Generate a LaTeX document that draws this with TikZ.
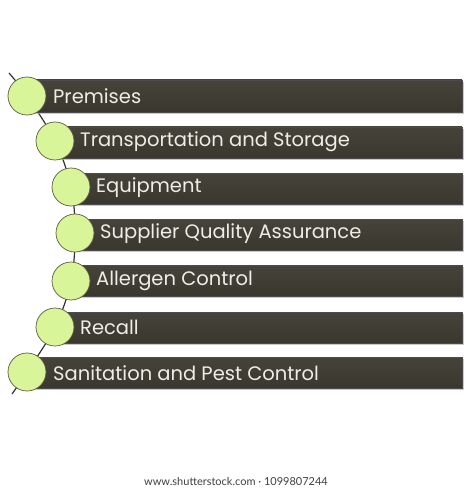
\documentclass[tikz,border=0pt]{standalone}
\usepackage{fontspec}
\setmainfont{Poppins}
\newfontfamily\footfont{Lato}
\usetikzlibrary{shadows}
\definecolor{barc}{HTML}{3A372E}
\definecolor{bartop}{HTML}{46433A}
\definecolor{circ}{HTML}{D8F59A}
\definecolor{circedge}{HTML}{5A5A3A}
\definecolor{txt}{HTML}{EEEEE6}
\tikzset{
  bar/.style={draw=black!70, line width=0.5pt, top color=bartop, bottom color=barc,
    drop shadow={shadow xshift=2pt, shadow yshift=-2pt, fill=black!35, opacity=0.6}},
  dot/.style={circle, draw=circedge, line width=0.7pt, fill=circ, minimum size=38pt, inner sep=0pt},
  lbl/.style={anchor=west, text=txt, font=\fontsize{19.5}{19.5}\selectfont, inner sep=0pt},
  spine/.style={draw=black!80, line width=1.2pt}
}
\begin{document}
\begin{tikzpicture}[x=1pt,y=-1pt]
\useasboundingbox (0,0) rectangle (474,489);
\fill[white] (0,0) rectangle (474,489);
% spine
\draw[spine] plot[smooth, tension=0.6] coordinates {(9,73) (27,96) (55,141) (71,187) (75,233) (71,281) (55,327) (27,372) (12,394)};
% bars
\foreach \cx/\t/\b in {27/80/112, 55/127/158, 71/173/204, 75/219/250, 71/265/296, 55/312/343, 27/357/388}{
  \path[bar] (\cx,\t) rectangle (462,\b);
}
% circles
\node[dot] (c1) at (27,96) {};
\node[dot] (c2) at (55,141) {};
\node[dot] (c3) at (71,187) {};
\node[dot] (c4) at (75,233) {};
\node[dot] (c5) at (71,281) {};
\node[dot] (c6) at (55,327) {};
\node[dot] (c7) at (27,372) {};
% labels
\node[lbl] (t1) at (53,96) {Premises};
\node[lbl] (t2) at (80,142) {Transportation and Storage};
\node[lbl] (t3) at (96,188) {Equipment};
\node[lbl] (t4) at (100,234) {Supplier Quality Assurance};
\node[lbl] (t5) at (96,281) {Allergen Control};
\node[lbl] (t6) at (80,327) {Recall};
\node[lbl] (t7) at (53,373) {Sanitation and Pest Control};
% footer
\node[text=black!75, font=\fontsize{11}{11}\selectfont\footfont] (ft) at (236,481) {www.shutterstock.com · 1099807244};
\end{tikzpicture}
\end{document}
